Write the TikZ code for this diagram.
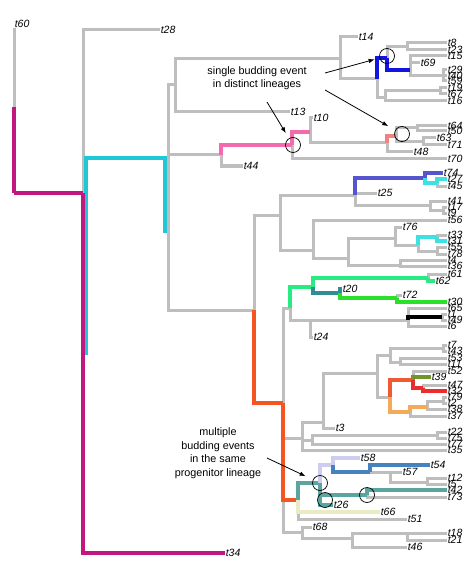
\documentclass[tikz,border=0pt]{standalone}
\usepackage{fontspec}
\setmainfont{Liberation Sans}
\usepackage{xcolor}
\usetikzlibrary{arrows.meta}
\definecolor{gry}{RGB}{190,190,190}
\definecolor{magent}{RGB}{192,24,128}
\definecolor{cyn}{RGB}{30,200,215}
\definecolor{pnk}{RGB}{245,105,175}
\definecolor{blu}{RGB}{20,20,225}
\definecolor{slmn}{RGB}{240,130,130}
\definecolor{slate}{RGB}{85,85,205}
\definecolor{aqua}{RGB}{60,225,225}
\definecolor{sgreen}{RGB}{40,235,130}
\definecolor{lime}{RGB}{40,225,40}
\definecolor{tealc}{RGB}{50,140,150}
\definecolor{orng}{RGB}{245,85,35}
\definecolor{redor}{RGB}{240,90,50}
\definecolor{redc}{RGB}{235,45,45}
\definecolor{olive}{RGB}{110,150,40}
\definecolor{lorng}{RGB}{245,170,90}
\definecolor{lav}{RGB}{205,205,240}
\definecolor{steel}{RGB}{70,130,190}
\definecolor{teal2}{RGB}{90,165,160}
\definecolor{lyel}{RGB}{235,235,195}
\begin{document}
\begin{tikzpicture}[x=1pt,y=-1pt,
  br/.style={draw=gry,line width=3pt},
  clr/.style={br,draw=#1,line width=3.2pt},
  tiplab/.style={anchor=west,inner sep=0.6pt,font=\fontsize{10.5}{11}\selectfont\itshape},
  note/.style={align=center,font=\fontsize{10.8}{13.5}\selectfont},
  bud/.style={draw,circle,line width=0.7pt,minimum size=15pt,inner sep=0pt},
  arr/.style={-{Latex[length=6pt,width=4.5pt]},line width=0.8pt}
]
\useasboundingbox (0,0) rectangle (474,564);
\foreach \n/\x/\y in {r0/14/193,m60/14/107,A/83/193,B/168/158,C/175/85,D/221/155,E/254/310,
  F/340/59,M/377/79,N/387/58,O/385/98,P/440/91,Q/407/47,R/410/70,S/443/76,
  G/292/145,I/310/132,H/387/143,J/396/136,K/417/128,L/423/142,
  Y/280/215,T/355/195,U/425/178,W/437/183,V/430/205,X/443/210,
  Z/313/250,AA/348/258,BB/395/238,DD/418/245,FF/437/237,EE/437/251,CC/400/265,
  II/283/403,JJ/290/308,AN/313/287,AT/428/278,AU/340/293,AV/397/298,
  AP/310/320,AQ/408/320,AR/442/317,
  NN/302/438,AB/323/422,LL/377/373,AE/390/355,AF/443/348,AG/400/362,
  MM/390/397,AH/413/380,AJ/423/388,AI/410/412,AL/427/407,AM/443/401,
  AC/312/440,AD/437/435,
  RR/298/500,SS/320/483,VV/333/465,XX/370/472,YY/390/472,ZZ/427/482,WW/367/495,
  PP/302/532,AW/352/538,AX/407/533,
  cs/86/355,cb/165/158,ce/165/233,
  a1/325/73,a2/325/90,a3/267/102,a4/267/458}
  \coordinate (\n) at (\x,\y);
\foreach \n/\x/\y in {t28/160/30,t14/358/37,t8/447/43,t23/447/50,t15/447/56,t69/420/63,
  t29/447/70,t40/447/76,t59/447/81,t19/447/88,t67/447/94,t16/447/101,
  t13/290/112,t10/313/118,t64/447/126,t50/447/131,t63/436/138,t71/447/145,
  t48/413/152,t70/447/159,t44/243/166,t74/443/173,t27/447/179,t45/447/186,
  t25/377/193,t41/447/201,t17/447/207,t9/447/213,t56/447/220,t76/402/227,
  t33/447/235,t31/447/241,t55/447/247,t78/447/254,t4/447/260,t36/447/266,
  t61/447/274,t62/435/281,t20/342/289,t72/402/295,t30/447/302,t65/447/308,
  t1/447/314,t49/447/320,t6/447/326,t24/313/337,t7/447/345,t43/447/351,
  t53/447/358,t11/447/364,t52/447/371,t39/431/377,t47/447/385,t32/447/391,
  t79/447/397,t2/447/403,t38/447/409,t37/447/416,t3/335/428,t22/447/432,
  t75/447/438,t77/447/444,t35/447/450,t58/360/458,t54/430/465,t57/402/472,
  t12/447/478,t5/447/484,t42/447/490,t73/447/497,t26/333/505,t66/380/512,
  t51/407/519,t68/312/527,t18/447/533,t21/447/540,t46/407/547,t34/225/553}
  \node[tiplab] (\n) at (\x,\y) {\n};
\node[tiplab,anchor=south west] (t60) at (14,28) {t60};
\foreach \p/\c in {A/t28,B/C,B/D,B/E,C/F,C/t13,F/t14,F/M,M/O,O/P,O/t16,P/t19,P/t67,
  N/Q,Q/t8,Q/t23,R/t15,R/t69,R/S,S/t29,S/t40,S/t59,
  D/t44,G/t70,I/t10,I/H,H/t48,J/K,J/L,K/t64,K/t50,L/t63,L/t71,
  E/Y,Y/T,Y/Z,T/t25,T/V,W/t45,V/t41,V/X,X/t17,X/t9,
  Z/t56,Z/AA,AA/BB,AA/CC,BB/t76,BB/DD,DD/EE,FF/t33,EE/t55,EE/t78,CC/t4,CC/t36,
  II/JJ,II/NN,II/PP,JJ/AP,AT/t61,AV/t72,AP/AQ,AP/t24,AQ/t65,AQ/t6,AR/t1,AR/t49,
  NN/AB,NN/AC,NN/t35,AB/LL,AB/t3,LL/AE,LL/MM,AE/AF,AE/AG,AF/t7,AF/t43,AG/t53,AG/t11,
  AH/t52,AJ/t47,AI/t37,AL/AM,AL/t38,AM/t79,AM/t2,AC/AD,AC/t77,AD/t22,AD/t75,
  RR/t51,XX/YY,YY/t57,YY/ZZ,ZZ/t12,ZZ/t5,WW/t73,
  PP/t68,PP/AW,AW/AX,AW/t46,AX/t18,AX/t21}
  \draw[br] (\p) |- (\c);
\draw[br] (m60) -- (t60.south west);
\draw[clr=magent] (m60) -- (r0);
\draw[clr=cyn] (cs) |- (cb) -- (ce);
\foreach \p/\c/\k in {r0/A/magent,A/t34/magent,D/G/pnk,G/I/pnk,H/J/slmn,M/N/blu,N/R/blu,
  E/II/orng,II/RR/orng,T/U/slate,U/t74/slate,U/W/aqua,W/t27/aqua,DD/FF/aqua,FF/t31/aqua,
  JJ/AN/sgreen,AN/AT/sgreen,AT/t62/sgreen,AN/AU/tealc,AU/t20/tealc,AU/AV/lime,AV/t30/lime,
  AQ/AR/black,MM/AH/redor,AH/AJ/redc,AJ/t32/redc,AH/t39/olive,MM/AI/lorng,AI/AL/lorng,
  RR/SS/teal2,SS/WW/teal2,WW/t42/teal2,SS/t26/teal2,RR/t66/lyel,SS/VV/lav,VV/t58/lav,
  VV/XX/steel,XX/t54/steel}
  \draw[clr=\k] (\p) |- (\c);
\foreach \n/\x/\y in {c1/387/56,c2/293/145,c3/402/134,c4/320/483,c5/325/500,c6/367/495}
  \node[bud] (\n) at (\x,\y) {};
\node[note] (n1) at (257,78) {single budding event\\in distinct lineages};
\node[note] (n2) at (218,453) {multiple\\budding events\\in the same\\progenitor lineage};
\foreach \s/\e/\g in {a1/c1/5,a2/c3/8,a3/c2/6,a4/c4/8}
  \draw[arr,shorten >=\g pt] (\s) -- (\e);
\end{tikzpicture}
\end{document}
